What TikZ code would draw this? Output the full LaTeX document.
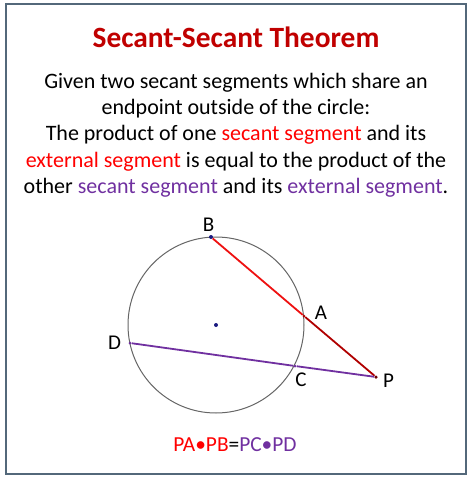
\documentclass[tikz,border=0pt]{standalone}
\usepackage{fontspec}
\setmainfont{Carlito}
\usepackage{tikz}
\usetikzlibrary{positioning}

\definecolor{titlered}{HTML}{C00000}
\definecolor{secred}{HTML}{EE1111}
\definecolor{extred}{HTML}{B00000}
\definecolor{secpurple}{HTML}{7030A0}
\definecolor{framegray}{HTML}{53687A}
\definecolor{dotblue}{HTML}{1A1A80}

\tikzset{
  pt/.style={circle,fill=#1,inner sep=0pt,minimum size=4pt},
  lbl/.style={font=\fontsize{21}{24}\selectfont,inner sep=1pt},
}

\begin{document}
\begin{tikzpicture}[x=1pt,y=-1pt]
  \useasboundingbox (0,0) rectangle (474,480);
  \draw[framegray,line width=1.5pt] (6,4) rectangle (466,474);

  \node (title) at (236,37) {\fontsize{29.4}{33}\selectfont\bfseries\color{titlered}Secant-Secant Theorem};
  \node[align=center,font=\fontsize{22}{26.3}\selectfont] (text) at (236,135)
    {Given two secant segments which share an\\
     endpoint outside of the circle:\\
     The product of one \textcolor{red}{secant segment} and its\\
     \textcolor{red}{external segment} is equal to the product of the\\
     other \textcolor{secpurple}{secant segment} and its \textcolor{secpurple}{external segment}.};

  % circle and points
  \draw[gray!80!black,line width=1pt] (216,325) circle (88);
  \node[pt=dotblue,minimum size=4pt] (O) at (216,325) {};
  \node[pt=dotblue] (B) at (211,237) {};
  \node[pt=extred,minimum size=3pt] (A) at (304,316) {};
  \node[pt=secpurple,minimum size=3pt] (D) at (130,343) {};
  \node[pt=secpurple,minimum size=3pt] (C) at (295,366) {};
  \node[pt=extred!60!black,minimum size=3.5pt] (P) at (376,377) {};

  \draw[secred,line width=1.8pt] (B) -- (A);
  \draw[extred,line width=1.8pt] (A) -- (P);
  \draw[secpurple,line width=1.8pt] (D) -- (C) -- (P);

  \node[lbl,above left=3pt and -6pt of B] {B};
  \node[lbl,right=8pt of A,yshift=3pt] {A};
  \node[lbl,left=6pt of D] {D};
  \node[lbl,below right=4pt and -2pt of C] {C};
  \node[lbl,right=4pt of P,yshift=-4pt] {P};

  \node[font=\fontsize{21.4}{24}\selectfont] (formula) at (235,445)
    {\textcolor{red}{PA•PB}=\textcolor{secpurple}{PC•PD}};
\end{tikzpicture}
\end{document}
